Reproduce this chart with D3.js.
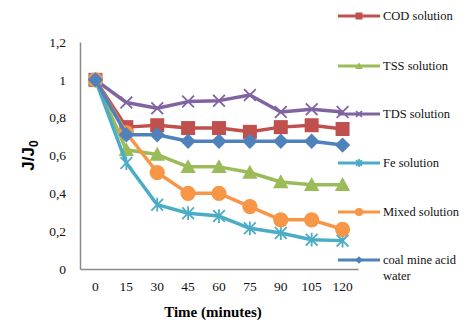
<!DOCTYPE html>
<html lang="en">
<head>
<meta charset="UTF-8">
<script src="https://d3js.org/d3.v7.min.js"></script>
<style>
  body { margin: 0; background: #fff; }
  text { font-family: "Liberation Serif", "Times New Roman", serif; }
</style>
</head>
<body>
<div id="container"></div>
<script>
const w = 474, h = 323;

// data
const times = ["0", "15", "30", "45", "60", "75", "90", "105", "120"];
const yTicks = [0, 0.2, 0.4, 0.6, 0.8, 1, 1.2];
const seriesNames = ["COD solution", "TSS solution", "TDS solution", "Fe solution", "Mixed solution", "coal mine acid water"];
const codVals   = [1, 0.75, 0.76, 0.745, 0.745, 0.725, 0.75, 0.76, 0.74];
const tssVals   = [1, 0.63, 0.605, 0.54, 0.54, 0.51, 0.46, 0.445, 0.445];
const tdsVals   = [1, 0.88, 0.85, 0.885, 0.89, 0.92, 0.83, 0.845, 0.83];
const feVals    = [1, 0.56, 0.34, 0.295, 0.28, 0.215, 0.19, 0.155, 0.15];
const mixedVals = [1, 0.72, 0.51, 0.40, 0.40, 0.33, 0.26, 0.26, 0.21];
const coalVals  = [1, 0.71, 0.71, 0.675, 0.675, 0.675, 0.675, 0.675, 0.655];

const series = [
  { name: seriesNames[0], values: codVals,   color: "#C0504D", marker: "square" },
  { name: seriesNames[1], values: tssVals,   color: "#9BBB59", marker: "triangle" },
  { name: seriesNames[2], values: tdsVals,   color: "#8064A2", marker: "x" },
  { name: seriesNames[3], values: feVals,    color: "#4BACC6", marker: "star" },
  { name: seriesNames[4], values: mixedVals, color: "#F79646", marker: "circle" },
  { name: seriesNames[5], values: coalVals,  color: "#4F81BD", marker: "diamond" }
];

const margin = { left: 80, right: 116, top: 42, bottom: 54 };

const svg = d3.select("#container").append("svg")
  .attr("width", w).attr("height", h);

const x = d3.scaleBand().domain(times)
  .range([margin.left, w - margin.right]);
const y = d3.scaleLinear().domain([0, 1.2])
  .range([h - margin.bottom, margin.top]);

// axes
const xAxis = svg.append("g")
  .attr("transform", "translate(0," + (h - margin.bottom) + ")")
  .call(d3.axisBottom(x).tickSize(0).tickPadding(12));
const yAxis = svg.append("g")
  .attr("transform", "translate(" + margin.left + ",0)")
  .call(d3.axisLeft(y).tickValues(yTicks).tickSize(0).tickPadding(14)
    .tickFormat(d => String(d).replace(".", ",")));
[xAxis, yAxis].forEach(g => {
  g.select(".domain").attr("stroke", "#8a8a8a").attr("stroke-width", 1.5);
  g.selectAll("text").attr("font-size", 13.5).attr("fill", "#111")
    .style("font-family", "'Liberation Serif', serif");
});

// axis titles
svg.append("text")
  .attr("transform", "translate(34," + y(0.6) + ") rotate(-90)")
  .attr("text-anchor", "middle")
  .style("font-family", "'Liberation Sans', Arial, sans-serif")
  .attr("font-weight", "bold").attr("font-size", 17)
  .html('J/J<tspan font-size="12" dy="4">0</tspan>');

svg.append("text")
  .attr("x", (margin.left + w - margin.right) / 2 - 6)
  .attr("y", 317)
  .attr("text-anchor", "middle")
  .style("font-family", "'Liberation Serif', serif")
  .attr("font-weight", "bold").attr("font-size", 15)
  .text("Time (minutes)");

// marker drawing
function drawMarker(g, type, color, s) {
  if (type === "square") {
    g.append("rect").attr("x", -s / 2).attr("y", -s / 2).attr("width", s).attr("height", s).attr("fill", color);
  } else if (type === "circle") {
    g.append("circle").attr("r", s / 2 + 0.6).attr("fill", color);
  } else if (type === "triangle") {
    const r = s * 0.55;
    g.append("path").attr("d", `M0,${-r}L${r},${r * 0.8}L${-r},${r * 0.8}Z`).attr("fill", color);
  } else if (type === "diamond") {
    const r = s * 0.55;
    g.append("path").attr("d", `M0,${-r}L${r},0L0,${r}L${-r},0Z`).attr("fill", color);
  } else if (type === "x" || type === "star") {
    const r = s * 0.42;
    let d = `M${-r},${-r}L${r},${r}M${-r},${r}L${r},${-r}`;
    if (type === "star") d += `M0,${-r - 1}L0,${r + 1}`;
    g.append("path").attr("d", d).attr("stroke", color).attr("stroke-width", 1.8).attr("fill", "none");
  }
}

const line = d3.line()
  .x((d, i) => x(times[i]) + x.bandwidth() / 2)
  .y(d => y(d));

series.forEach(s => {
  const g = svg.append("g");
  g.append("path").datum(s.values)
    .attr("d", line)
    .attr("fill", "none")
    .attr("stroke", s.color)
    .attr("stroke-width", 3.5)
    .attr("stroke-linejoin", "round");
  s.values.forEach((v, i) => {
    const m = g.append("g")
      .attr("transform", "translate(" + (x(times[i]) + x.bandwidth() / 2) + "," + y(v) + ")");
    drawMarker(m, s.marker, s.color, 14);
  });
});

// legend
const legendY = [16, 66, 114, 163, 212, 260];
series.forEach((s, i) => {
  const g = svg.append("g").attr("transform", "translate(338," + legendY[i] + ")");
  g.append("line").attr("x1", 0).attr("x2", 42).attr("y1", 0).attr("y2", 0)
    .attr("stroke", s.color).attr("stroke-width", 3);
  const m = g.append("g").attr("transform", "translate(21,0)");
  drawMarker(m, s.marker, s.color, 7);
  const t = g.append("text").attr("x", 45).attr("y", 4)
    .attr("font-size", 12.5).attr("fill", "#111");
  if (i === 5) {
    t.append("tspan").attr("x", 45).text("coal mine acid");
    t.append("tspan").attr("x", 45).attr("dy", 16).text("water");
  } else {
    t.text(s.name);
  }
});
</script>
</body>
</html>
